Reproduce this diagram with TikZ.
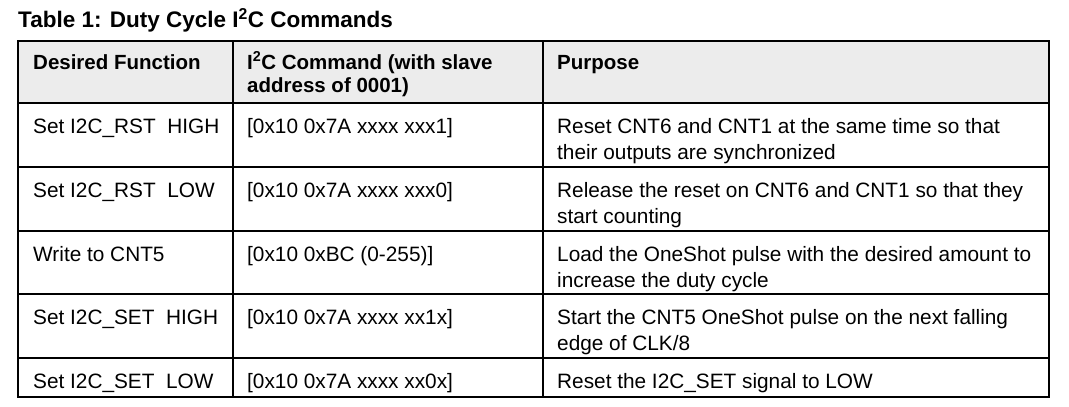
\documentclass[tikz,border=0pt]{standalone}
\usepackage{fontspec}
\setmainfont{Liberation Sans}
\begin{document}
\begin{tikzpicture}[x=1pt,y=-1pt,
  txt/.style={anchor=base west,inner sep=0pt,font=\fontsize{20.8}{24}\selectfont},
  hd/.style={anchor=base west,inner sep=0pt,font=\fontsize{20.5}{24}\selectfont\bfseries},
  grid/.style={line width=2pt,black}]
\useasboundingbox (0,0) rectangle (1069,407);
\fill[gray!15] (18,41) rectangle (1049,103);
\node[anchor=base west,inner sep=0pt,font=\fontsize{22.5}{24}\selectfont\bfseries] (title) at (18,27) {Table 1: Duty Cycle I\textsuperscript{2}C Commands};
% grid
\draw[grid] (18,41) rectangle (1049,397);
\foreach \y in {103,167,231,294,358} \draw[grid] (18,\y) -- (1049,\y);
\foreach \x in {233,543} \draw[grid] (\x,41) -- (\x,397);
% header
\node[hd] (h1) at (33,69) {Desired Function};
\node[hd] (h2) at (247,69) {I\textsuperscript{2}C Command (with slave};
\node[hd] (h2b) at (247,92) {address of 0001)};
\node[hd] (h3) at (557,69) {Purpose};
% rows
\node[txt] (a1) at (33,133) {Set I2C\_RST\ \ HIGH};
\node[txt] (b1) at (247,133) {[0x10 0x7A xxxx xxx1]};
\node[txt] (c1) at (557,133) {Reset CNT6 and CNT1 at the same time so that};
\node[txt] (c1b) at (557,159) {their outputs are synchronized};
\node[txt] (a2) at (33,197) {Set I2C\_RST\ \ LOW};
\node[txt] (b2) at (247,197) {[0x10 0x7A xxxx xxx0]};
\node[txt] (c2) at (557,197) {Release the reset on CNT6 and CNT1 so that they};
\node[txt] (c2b) at (557,223) {start counting};
\node[txt] (a3) at (33,261) {Write to CNT5};
\node[txt] (b3) at (247,261) {[0x10 0xBC (0-255)]};
\node[txt] (c3) at (557,261) {Load the OneShot pulse with the desired amount to};
\node[txt] (c3b) at (557,287) {increase the duty cycle};
\node[txt] (a4) at (33,324) {Set I2C\_SET\ \ HIGH};
\node[txt] (b4) at (247,324) {[0x10 0x7A xxxx xx1x]};
\node[txt] (c4) at (557,324) {Start the CNT5 OneShot pulse on the next falling};
\node[txt] (c4b) at (557,350) {edge of CLK/8};
\node[txt] (a5) at (33,388) {Set I2C\_SET\ \ LOW};
\node[txt] (b5) at (247,388) {[0x10 0x7A xxxx xx0x]};
\node[txt] (c5) at (557,388) {Reset the I2C\_SET signal to LOW};
\end{tikzpicture}
\end{document}
